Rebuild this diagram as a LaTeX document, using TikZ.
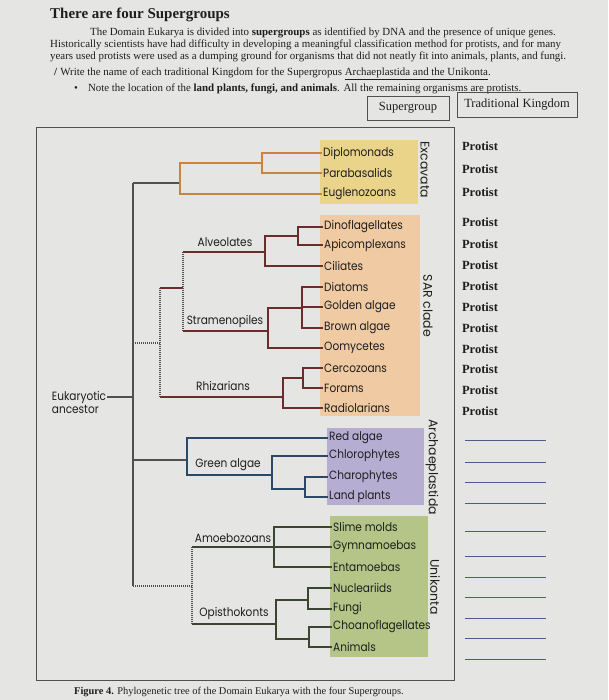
\documentclass[tikz,border=0pt]{standalone}
\usepackage{fontspec}
\setmainfont{Liberation Serif}
\newfontfamily\treefont[FakeStretch=0.88]{Poppins}
\newfontfamily\groupfont{Poppins}
\definecolor{paper}{RGB}{229,229,227}
\definecolor{excfill}{RGB}{234,212,138}
\definecolor{sarfill}{RGB}{239,202,163}
\definecolor{arcfill}{RGB}{182,173,210}
\definecolor{unifill}{RGB}{180,197,135}
\definecolor{exccol}{RGB}{200,133,63}
\definecolor{sarcol}{RGB}{106,44,44}
\definecolor{arccol}{RGB}{44,72,104}
\definecolor{unicol}{RGB}{59,69,48}
\definecolor{trunkcol}{RGB}{80,80,80}
\definecolor{inkcol}{RGB}{30,30,30}
\definecolor{blankcol}{RGB}{78,92,138}
\begin{document}
\begin{tikzpicture}[x=1pt,y=-1pt,
  txt/.style={anchor=west, inner sep=0pt, text=inkcol, font=\fontsize{10.9}{12}\selectfont},
  hdrbox/.style={draw=trunkcol, line width=0.8pt, text=inkcol, font=\fontsize{12.5}{14}\selectfont},
  leaf/.style={anchor=west, inner xsep=1pt, inner ysep=0pt, text=inkcol, font=\treefont\fontsize{12}{14}\selectfont},
  clade/.style={inner sep=1pt, text=inkcol, font=\treefont\fontsize{12}{14}\selectfont},
  sglabel/.style={rotate=-90, inner sep=0pt, text=inkcol, font=\groupfont\fontsize{12.5}{14}\selectfont},
  kingdom/.style={inner sep=0pt, text=inkcol, font=\fontsize{12.5}{14}\selectfont\bfseries},
  trunk/.style={draw=trunkcol, line width=1.2pt},
  dotline/.style={draw=trunkcol, line width=1.1pt, dash pattern=on 1pt off 1pt},
  excline/.style={draw=exccol, line width=1.4pt},
  sarline/.style={draw=sarcol, line width=1.4pt},
  arcline/.style={draw=arccol, line width=1.4pt},
  uniline/.style={draw=unicol, line width=1.4pt},
  blank/.style={draw=blankcol, line width=1pt}]
\fill[paper] (0,0) rectangle (608,700);
\useasboundingbox (0,0) rectangle (608,700);

% heading and instructions
\node[txt, font=\fontsize{15}{17}\selectfont\bfseries] (title) at (50,15) {There are four Supergroups};
\node[txt] (l1) at (90,33) {The Domain Eukarya is divided into \textbf{supergroups} as identified by DNA and the presence of unique genes.};
\node[txt] (l2) at (50,45) {Historically scientists have had difficulty in developing a meaningful classification method for protists, and for many};
\node[txt] (l3) at (50,57) {years used protists were used as a dumping ground for organisms that did not neatly fit into animals, plants, and fungi.};
\node[txt] (l4) at (54,74) {\textbf{/}\hspace{3pt}Write the name of each traditional Kingdom for the Supergropus \underline{Archaeplastida and the Unikonta}.};
\node[txt] (l5) at (74,89) {\textbullet\hspace{10pt}Note the location of the \textbf{land plants, fungi, and animals}. All the remaining organisms are protists.};
\node[hdrbox, minimum width=82pt, minimum height=24pt] (sg) at (408,108) {Supergroup};
\node[hdrbox, minimum width=120pt, minimum height=25pt] (tk) at (517,105) {Traditional Kingdom};

% frame and supergroup boxes
\draw[trunkcol, line width=0.8pt] (36,127) rectangle (454,680);
\fill[excfill] (320,140) rectangle (418,204);
\fill[sarfill] (320,215) rectangle (420,416);
\fill[arcfill] (327,428) rectangle (424,505);
\fill[unifill] (330,516) rectangle (428,657);
\node[sglabel] (excl) at (425,170) {Excavata};
\node[sglabel] (sarl) at (428,306) {SAR clade};
\node[sglabel] (arcl) at (432,467) {Archaeplastida};
\node[sglabel] (unil) at (435,587) {Unikonta};

% leaves
\node[leaf] (dip) at (322,153) {Diplomonads};
\node[leaf] (par) at (322,173) {Parabasalids};
\node[leaf] (eug) at (322,194) {Euglenozoans};
\node[leaf] (din) at (323,227) {Dinoflagellates};
\node[leaf] (api) at (323,245) {Apicomplexans};
\node[leaf] (cil) at (323,266) {Ciliates};
\node[leaf] (dia) at (323,287) {Diatoms};
\node[leaf] (gol) at (323,307) {Golden algae};
\node[leaf] (bro) at (323,328) {Brown algae};
\node[leaf] (oom) at (323,348) {Oomycetes};
\node[leaf] (cer) at (323,368) {Cercozoans};
\node[leaf] (for) at (323,388) {Forams};
\node[leaf] (rad) at (323,408) {Radiolarians};
\node[leaf] (red) at (328,438) {Red algae};
\node[leaf] (chl) at (328,456) {Chlorophytes};
\node[leaf] (cha) at (328,477) {Charophytes};
\node[leaf] (lan) at (328,497) {Land plants};
\node[leaf] (sli) at (332,527) {Slime molds};
\node[leaf] (gym) at (332,547) {Gymnamoebas};
\node[leaf] (ent) at (332,567) {Entamoebas};
\node[leaf] (nuc) at (332,588) {Nucleariids};
\node[leaf] (fun) at (332,609) {Fungi};
\node[leaf] (cho) at (332,627) {Choanoflagellates};
\node[leaf] (ani) at (332,647) {Animals};

% branch points
\coordinate (ttop) at (133,183);
\coordinate (tbot) at (133,586);
\coordinate (exc) at (180,183);
\coordinate (exc1) at (262,163);
\coordinate (sar) at (160,343);
\coordinate (sa) at (183,288);
\coordinate (alv) at (265,252);
\coordinate (alv1) at (298,236);
\coordinate (str) at (268,331);
\coordinate (str1) at (302,308);
\coordinate (rhi) at (283,397);
\coordinate (rhi1) at (303,378);
\coordinate (arc) at (187,460);
\coordinate (arc1) at (272,475);
\coordinate (arc2) at (305,489);
\coordinate (uni) at (192,586);
\coordinate (amo) at (274,547);
\coordinate (opi) at (276,624);
\coordinate (opi1) at (308,600);
\coordinate (opi2) at (309,639);

% clade names
\node[clade] (euk) at (79,397) {Eukaryotic};
\node[clade, anchor=north west] (anc) at (euk.south west) {ancestor};
\node[clade] (alvn) at (225,242) {Alveolates};
\node[clade] (strn) at (225,321) {Stramenopiles};
\node[clade] (rhin) at (223,386) {Rhizarians};
\node[clade] (grn) at (228,465) {Green algae};
\node[clade] (amon) at (233,538) {Amoebozoans};
\node[clade] (opin) at (234,613) {Opisthokonts};

% trunk
\draw[trunk] (euk.east) -- (euk.east -| ttop);
\draw[trunk] (ttop) -- (tbot);
\draw[trunk] (ttop) -- (exc);
\draw[trunk] (ttop |- arc) -- (arc);

% Excavata
\draw[excline] (exc) |- (exc1);
\draw[excline] (exc) |- (eug.west);
\draw[excline] (exc1) |- (dip.west);
\draw[excline] (exc1) |- (par.west);

% SAR clade
\draw[dotline] (ttop |- sar) -- (sar);
\draw[dotline] (sar |- sa) -- (sar |- rhi);
\draw[sarline] (sar |- sa) -- (sa);
\draw[sarline] (sar |- rhi) -- (rhi);
\draw[dotline] (sa |- alv) -- (sa |- str);
\draw[sarline] (sa |- alv) -- (alv);
\draw[sarline] (sa |- str) -- (str);
\draw[sarline] (alv) |- (alv1);
\draw[sarline] (alv) |- (cil.west);
\draw[sarline] (alv1) |- (din.west);
\draw[sarline] (alv1) |- (api.west);
\draw[sarline] (str) |- (str1);
\draw[sarline] (str) |- (oom.west);
\draw[sarline] (str1) |- (dia.west);
\draw[sarline] (str1) |- (gol.west);
\draw[sarline] (str1) |- (bro.west);
\draw[sarline] (rhi) |- (rhi1);
\draw[sarline] (rhi) |- (rad.west);
\draw[sarline] (rhi1) |- (cer.west);
\draw[sarline] (rhi1) |- (for.west);

% Archaeplastida
\draw[arcline] (arc) |- (red.west);
\draw[arcline] (arc) |- (arc1);
\draw[arcline] (arc1) |- (chl.west);
\draw[arcline] (arc1) |- (arc2);
\draw[arcline] (arc2) |- (cha.west);
\draw[arcline] (arc2) |- (lan.west);

% Unikonta
\draw[dotline] (tbot) -- (uni);
\draw[dotline] (uni |- amo) -- (uni |- opi);
\draw[uniline] (uni |- amo) -- (amo);
\draw[uniline] (uni |- opi) -- (opi);
\draw[uniline] (amo) |- (sli.west);
\draw[uniline] (amo) |- (gym.west);
\draw[uniline] (amo) |- (ent.west);
\draw[uniline] (opi) |- (opi1);
\draw[uniline] (opi) |- (opi2);
\draw[uniline] (opi1) |- (nuc.west);
\draw[uniline] (opi1) |- (fun.west);
\draw[uniline] (opi2) |- (cho.west);
\draw[uniline] (opi2) |- (ani.west);

% traditional kingdom column
\foreach \y [count=\i] in {146,169,192,222,244,265,286,307,328,349,369,390,411}
  \node[kingdom] (p\i) at (480,\y) {Protist};
\foreach \y [count=\i] in {440,462,482,503,531,556,577,597,618,638,659}
  \draw[blank] (465,\y) coordinate (b\i) -- ++(81,0);

\node[txt, font=\fontsize{10.4}{12}\selectfont] (cap) at (74,692) {\textbf{Figure 4.} Phylogenetic tree of the Domain Eukarya with the four Supergroups.};
\end{tikzpicture}
\end{document}
